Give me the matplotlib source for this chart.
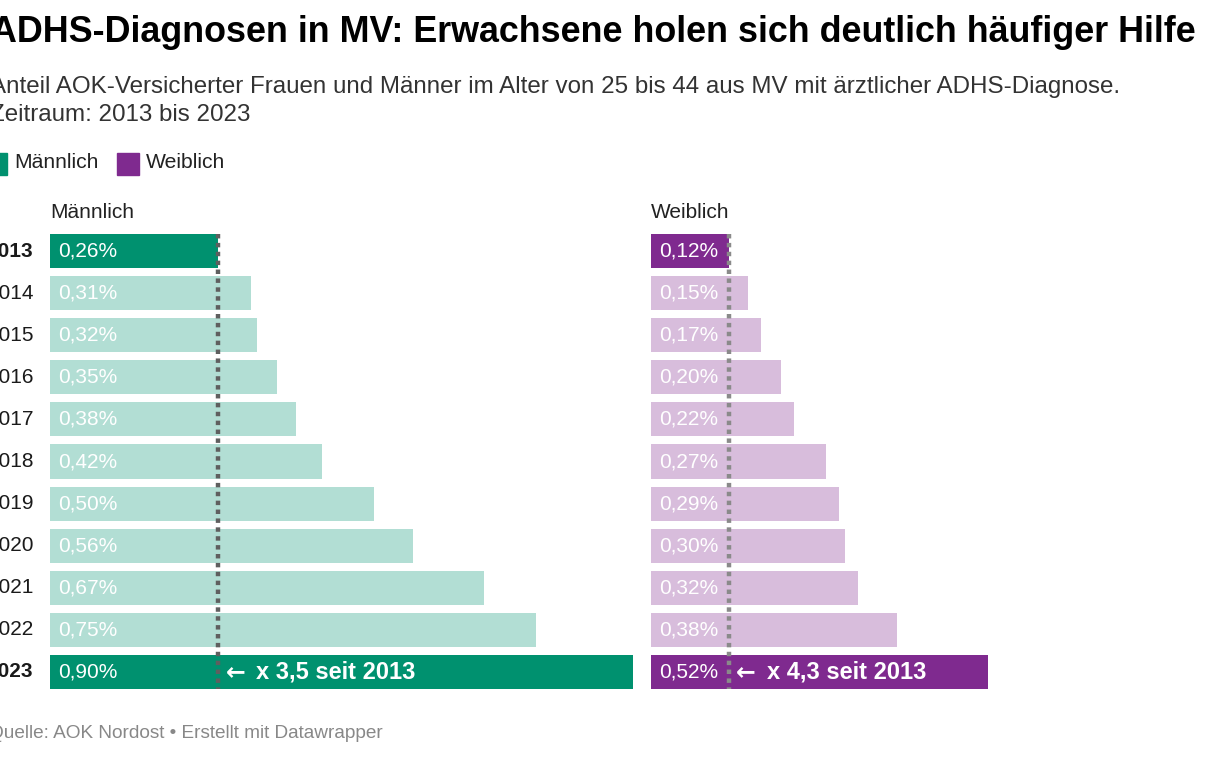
import matplotlib.pyplot as plt
from matplotlib.patches import Rectangle

plt.rcParams['font.family'] = ['Liberation Sans', 'DejaVu Sans']

years = ['2013', '2014', '2015', '2016', '2017', '2018', '2019', '2020', '2021', '2022', '2023']
maennlich = [0.26, 0.31, 0.32, 0.35, 0.38, 0.42, 0.50, 0.56, 0.67, 0.75, 0.90]
weiblich = [0.12, 0.15, 0.17, 0.20, 0.22, 0.27, 0.29, 0.30, 0.32, 0.38, 0.52]
notes = ['x 3,5 seit 2013', 'x 4,3 seit 2013']

green, green_l = '#00916f', '#b2ded4'
purple, purple_l = '#7f2a8f', '#d8bddc'

W, H = 1220, 763
fig = plt.figure(figsize=(W / 100, H / 100), dpi=100)

def fx(px):
    return px / W

def fy(py):
    return 1 - py / H

scale = 648  # px per 1.0 percent
top_px, bot_px = 230, 693
ax_h = (bot_px - top_px) / H

def panel(x0, vals, dark, light, dotcol, note, xmax):
    ax = fig.add_axes([fx(x0), fy(bot_px), xmax * scale / W, ax_h])
    ax.set_xlim(0, xmax)
    ax.set_ylim(len(vals) - 0.5, -0.5)
    n = len(vals)
    for i, v in enumerate(vals):
        c = dark if i in (0, n - 1) else light
        ax.barh(i, v, height=0.81, color=c, edgecolor='none')
        ax.text(8 / scale, i, f'{v:.2f}%'.replace('.', ','), color='white',
                fontsize=15, va='center', ha='left')
    ax.plot([vals[0], vals[0]], [-0.41, n - 1 + 0.41], color=dotcol, lw=3.2,
            linestyle=(0, (1, 1)), solid_capstyle='butt', dash_capstyle='butt')
    ax.text(vals[0] + 7 / scale, n - 1, '\u2190', color='white', family='DejaVu Sans',
            fontsize=17, fontweight='bold', va='center', ha='left')
    ax.text(vals[0] + 38 / scale, n - 1, note, color='white',
            fontsize=17, fontweight='bold', va='center', ha='left')
    ax.axis('off')
    return ax

panel(50, maennlich, green, green_l, '#5f5f5f', notes[0], 0.90)
panel(651, weiblich, purple, purple_l, '#8a8a8a', notes[1], 0.52)

# year labels
row_h = (bot_px - top_px) / len(years)
for i, y in enumerate(years):
    yc = top_px + row_h * (i + 0.5)
    bold = i in (0, len(years) - 1)
    fig.text(fx(33), fy(yc), y, ha='right', va='center', fontsize=15,
             fontweight='bold' if bold else 'normal', color='#1a1a1a')

fig.text(fx(50), fy(213), 'Männlich', fontsize=15, va='center', color='#222222')
fig.text(fx(651), fy(213), 'Weiblich', fontsize=15, va='center', color='#222222')

# title / subtitle
fig.text(fx(-9), fy(33), 'ADHS-Diagnosen in MV: Erwachsene holen sich deutlich häufiger Hilfe',
         fontsize=25.8, fontweight='bold', va='center', ha='left', color='#000000')
fig.text(fx(-10), fy(87), 'Anteil AOK-Versicherter Frauen und Männer im Alter von 25 bis 44 aus MV mit ärztlicher ADHS-Diagnose.',
         fontsize=17.4, va='center', ha='left', color='#333333')
fig.text(fx(-10), fy(115), 'Zeitraum: 2013 bis 2023',
         fontsize=17.4, va='center', ha='left', color='#333333')

# legend
for x0, col, lab in [(-15, green, 'Männlich'), (117, purple, 'Weiblich')]:
    fig.patches.append(Rectangle((fx(x0), fy(175)), fx(22), 22 / H, color=col,
                                 transform=fig.transFigure, figure=fig))
    fig.text(fx(x0 + 29), fy(163), lab, fontsize=15.2, va='center', color='#222222')

fig.text(fx(-11), fy(733), 'Quelle: AOK Nordost \u2022 Erstellt mit Datawrapper',
         fontsize=13.7, va='center', color='#888888')

fig.savefig('out.png', dpi=100, facecolor='white')
